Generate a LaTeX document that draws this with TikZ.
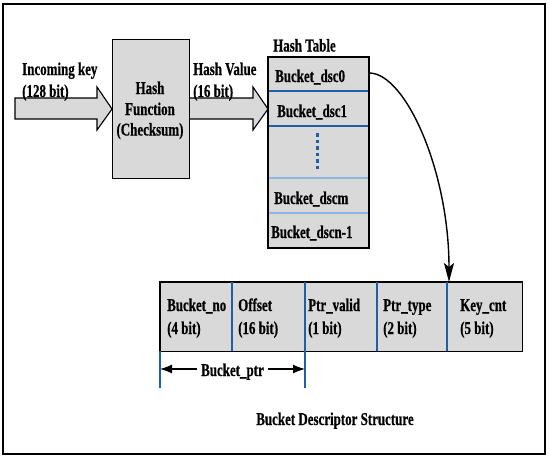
\documentclass[tikz,border=0pt]{standalone}
\usepackage{fontspec}
\setmainfont{Liberation Serif}[FakeStretch=0.72,BoldFeatures={FakeBold=0.6}]
\usetikzlibrary{arrows.meta}
\definecolor{boxgrey}{HTML}{D9D9D9}
\definecolor{dblue}{HTML}{1F5FAA}
\definecolor{lblue}{HTML}{8DB4E2}
\tikzset{
  lbl/.style={font=\fontsize{18}{22}\selectfont\bfseries, inner sep=0pt, anchor=base west},
  clbl/.style={font=\fontsize{18}{22}\selectfont\bfseries, inner sep=0pt, anchor=base},
  greybox/.style={draw=black, line width=1.3pt, fill=boxgrey},
  blockarrow/.style={draw=black, line width=1.1pt, fill=boxgrey, line join=miter},
  bluediv/.style={draw=dblue, line width=1.6pt},
  lightdiv/.style={draw=lblue, line width=1.6pt},
  fieldcell/.style={fill=boxgrey, draw=none, anchor=north west, inner sep=0pt, minimum height=69pt},
}
\begin{document}
\begin{tikzpicture}[x=1pt,y=-1pt]
\useasboundingbox (0,0) rectangle (550,459);
% frame
\draw[line width=1.3pt] (3,4) rectangle (545,454);

% block arrows
\draw[blockarrow] (15,98) -- (97,98) -- (97,87) -- (112,109) -- (97,130) -- (97,119) -- (15,119) -- cycle;
\draw[blockarrow] (189,98) -- (253,98) -- (253,87) -- (268,109) -- (253,130) -- (253,119) -- (189,119) -- cycle;

% hash function
\node[greybox, anchor=north west, minimum width=77pt, minimum height=139pt, inner sep=0pt] (hashfn) at (112,39) {};
\node[clbl] (hf1) at (150,94) {Hash};
\node[clbl] (hf2) at (150,115) {Function};
\node[clbl] (hf3) at (150,135.5) {(Checksum)};

\node[lbl] (inkey1) at (22,75) {Incoming key};
\node[lbl] (inkey2) at (22,97) {(128 bit)};
\node[lbl] (hval1) at (193,75) {Hash Value};
\node[lbl] (hval2) at (193,97) {(16 bit)};

% hash table
\node[lbl] (httitle) at (273,51.5) {Hash Table};
\node[greybox, anchor=north west, minimum width=100pt, minimum height=190pt, inner sep=0pt] (table) at (268,57) {};
\draw[bluediv] (268,91) -- (368,91);
\draw[bluediv] (268,126) -- (368,126);
\draw[lightdiv] (268,178) -- (368,178);
\draw[lightdiv] (268,213) -- (368,213);
\draw[dblue, line width=3pt, dash pattern=on 3.5pt off 3pt] (317,133) -- (317,171);
\draw[greybox, fill=none] (table.north west) rectangle (table.south east);
\node[lbl] (dsc0) at (275,82) {Bucket\_dsc0};
\node[lbl] (dsc1) at (277,117) {Bucket\_dsc1};
\node[lbl] (dscm) at (274,204) {Bucket\_dscm};
\node[lbl] (dscn) at (271,238) {Bucket\_dscn-1};
\coordinate (curvestart) at (table.east |- 0,73);

% bucket descriptor
\node[fieldcell, minimum width=72pt] (f1) at (160,282) {};
\node[fieldcell, minimum width=73pt] (f2) at (232,282) {};
\node[fieldcell, minimum width=72pt] (f3) at (305,282) {};
\node[fieldcell, minimum width=70pt] (f4) at (377,282) {};
\node[fieldcell, minimum width=75pt] (f5) at (447,282) {};
\draw[line width=1.3pt] (f1.north west) rectangle (f5.south east);
\foreach \c in {f2,f3,f4,f5} \draw[bluediv] (\c.north west) -- (\c.south west);
\node[lbl] (t1a) at (167,311) {Bucket\_no};
\node[lbl] (t1b) at (167,334) {(4 bit)};
\node[lbl] (t2a) at (238,311) {Offset};
\node[lbl] (t2b) at (238,334) {(16 bit)};
\node[lbl] (t3a) at (308,311) {Ptr\_valid};
\node[lbl] (t3b) at (308,334) {(1 bit)};
\node[lbl] (t4a) at (383,311) {Ptr\_type};
\node[lbl] (t4b) at (383,334) {(2 bit)};
\node[lbl] (t5a) at (460,311) {Key\_cnt};
\node[lbl] (t5b) at (460,334) {(5 bit)};
\coordinate (keyin) at ([xshift=2pt]f5.north west);

% curve connector
\draw[line width=1.4pt, -{Stealth[length=19pt,width=10pt,inset=4pt]}] (curvestart) .. controls (405,73) and (449,170) .. (keyin);

% bucket_ptr
\coordinate (bpl) at (f1.south west);
\coordinate (bpr) at (f3.south west);
\draw[bluediv] (bpl) -- ++(0,37) coordinate (bplb);
\draw[bluediv] (bpr) -- ++(0,37) coordinate (bprb);
\node[clbl] (bptr) at (232.5,376) {Bucket\_ptr};
\coordinate (bpy) at (0,369);
\draw[line width=1.2pt, -{Latex[length=12pt,width=9pt]}] ([xshift=-4pt]bptr.west |- bpy) -- (bpl |- bpy);
\draw[line width=1.2pt, -{Latex[length=12pt,width=9pt]}] ([xshift=4pt]bptr.east |- bpy) -- (bpr |- bpy);

\node[clbl] (title) at (335,425) {Bucket Descriptor Structure};
\end{tikzpicture}
\end{document}
